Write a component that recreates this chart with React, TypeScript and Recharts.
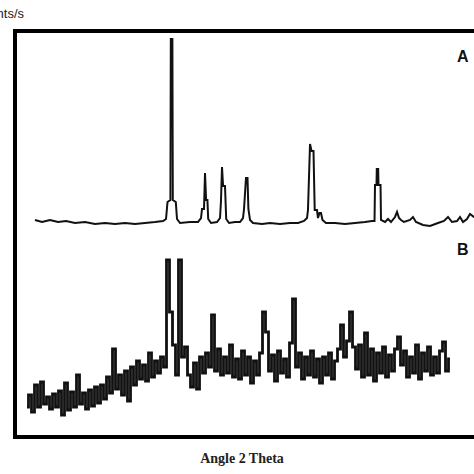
import { LineChart, Line, XAxis, YAxis, ReferenceArea } from "recharts";

// Trace A (crystalline sample), angle 2θ vs counts, offset above trace B
const angleA = [
  5.33, 6.5, 7.83, 9.17, 10.5, 12.0, 13.67, 15.33, 17.0, 18.67, 20.33, 22.0, 23.67, 25.33,
  26.67, 27.17, 27.42, 27.9, 27.97, 28.23, 28.3, 28.8, 29.0, 29.5, 31.17, 32.5,
  33.0, 33.17, 33.5, 33.67, 33.85, 34.07, 34.2, 34.67, 35.67, 36.17, 36.33, 36.5, 36.68,
  37.0, 37.2, 37.67, 38.67, 39.5, 40.0, 40.17, 40.5, 40.75, 40.9, 41.17, 41.67,
  43.17, 44.5, 46.17, 47.83, 49.17, 50.17, 50.67, 50.83, 51.17, 51.42, 51.75, 51.95,
  52.33, 52.5, 52.75, 53.0, 53.25, 53.83, 55.33, 57.0, 58.67, 60.33, 61.5, 61.92,
  62.0, 62.25, 62.3, 62.53, 62.58, 62.92, 63.0, 63.67, 64.17, 64.67, 65.33, 65.67,
  66.0, 66.33, 66.83, 67.83, 68.33, 68.83, 70.0, 71.17, 72.5, 73.5, 74.17, 74.83,
  75.67, 76.17, 76.67, 77.33, 77.83, 78.5, 79.5,
];
const countsA = [
  217, 215, 217, 215, 216, 214, 215, 213, 214, 213, 214, 213, 214, 215,
  216, 218, 235, 237, 398, 398, 237, 235, 218, 214, 215, 215,
  219, 228, 228, 264, 237, 237, 218, 214, 215, 219, 236, 270, 251,
  251, 218, 214, 215, 215, 219, 228, 259, 259, 228, 217, 214,
  213, 214, 213, 214, 214, 216, 219, 227, 293, 286, 286, 227,
  227, 219, 224, 224, 217, 214, 214, 213, 214, 215, 216, 216,
  252, 252, 268, 268, 252, 252, 217, 215, 218, 215, 220, 225,
  219, 217, 215, 217, 220, 215, 212, 211, 214, 216, 220, 215,
  216, 220, 215, 218, 223, 220, 219,
];

// Trace B (amorphous sample), scanned from 4° in 0.5° steps
const startB = 4;
const stepB = 0.5;
const countsB = [
  30, 42, 25, 52, 30, 55, 33, 40, 28, 43, 30, 46, 22, 54, 27, 45, 30, 62, 33, 44,
  28, 47, 31, 50, 34, 52, 38, 60, 44, 88, 48, 62, 42, 66, 36, 70, 52, 76, 58, 72,
  56, 84, 60, 76, 64, 80, 70, 177, 125, 92, 62, 177, 80, 90, 62, 50, 74, 48, 80, 64,
  84, 70, 122, 66, 88, 62, 80, 64, 92, 60, 78, 58, 86, 62, 80, 54, 76, 62, 84, 125,
  105, 66, 82, 56, 86, 64, 78, 60, 94, 138, 70, 84, 58, 80, 62, 86, 60, 78, 54, 80,
  62, 84, 58, 76, 88, 112, 80, 96, 125, 90, 68, 92, 60, 104, 62, 88, 56, 84, 64, 90,
  60, 82, 66, 88, 100, 72, 86, 60, 80, 64, 92, 58, 84, 66, 90, 62, 80, 64, 86, 95,
  66, 78,
];

const dataA = angleA.map((angle, i) => ({ angle, counts: countsA[i] }));
const dataB = countsB.map((counts, i) => ({ angle: startB + i * stepB, counts }));

const labelStyle: React.CSSProperties = {
  position: "absolute",
  fontFamily: "'Liberation Sans', Arial, sans-serif",
  fontWeight: "bold",
  fontSize: 16,
  color: "#111",
};

export default function App() {
  return (
    <div
      style={{
        position: "fixed",
        left: 0,
        top: 0,
        width: 474,
        height: 474,
        overflow: "hidden",
        background: "#fff",
      }}
    >
      <LineChart width={500} height={474} margin={{ top: 31, right: 17, bottom: 37, left: 15 }}>
        <XAxis type="number" dataKey="angle" domain={[2, 80]} hide allowDataOverflow />
        <YAxis type="number" domain={[0, 406]} hide allowDataOverflow />
        <ReferenceArea x1={2} x2={80} y1={0} y2={406} fill="none" stroke="#000" strokeWidth={4} />
        <Line
          data={dataA}
          dataKey="counts"
          type="linear"
          stroke="#111"
          strokeWidth={2}
          dot={false}
          isAnimationActive={false}
        />
        <Line
          data={dataB}
          dataKey="counts"
          type="step"
          stroke="#111"
          strokeWidth={2.8}
          dot={false}
          isAnimationActive={false}
        />
      </LineChart>
      <div
        style={{
          position: "absolute",
          right: 450,
          top: 6,
          fontFamily: "'Liberation Sans', Arial, sans-serif",
          fontSize: 13,
          color: "#222",
          whiteSpace: "nowrap",
        }}
      >
        Counts/s
      </div>
      <div style={{ ...labelStyle, left: 457, top: 48 }}>A</div>
      <div style={{ ...labelStyle, left: 457, top: 241 }}>B</div>
      <div
        style={{
          position: "absolute",
          left: 0,
          width: 484,
          top: 451,
          textAlign: "center",
          fontFamily: "'Liberation Serif', 'Times New Roman', serif",
          fontWeight: "bold",
          fontSize: 14,
          color: "#222",
        }}
      >
        Angle 2 Theta
      </div>
    </div>
  );
}
